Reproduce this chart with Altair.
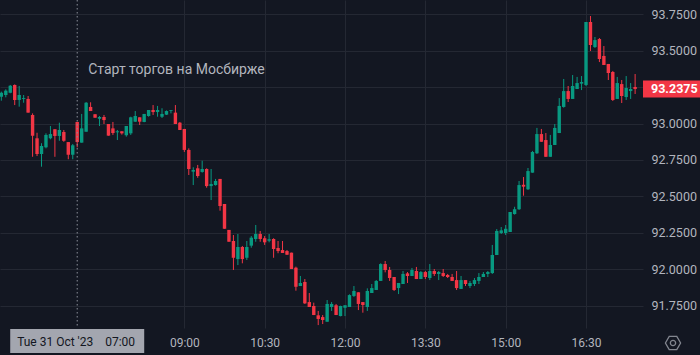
import altair as alt
import pandas as pd

GREEN = "#089981"
RED = "#F23645"
BG = "#131722"
GRID = "#242833"
LABEL = "#B2B5BE"

opens = [93.184, 93.196, 93.212, 93.265, 93.162, 93.169, 93.169, 93.059, 92.899, 92.791,
         92.837, 92.899, 92.961, 92.915, 92.942, 92.873, 92.786, 93.011, 92.869, 92.944,
         93.114, 93.064, 93.033, 93.045, 92.997, 92.967, 92.940, 92.947, 92.919, 92.933,
         93.013, 93.043, 93.011, 93.052, 93.093, 93.079, 93.047, 93.061, 93.088, 93.075,
         93.006, 92.963, 92.819, 92.670, 92.693, 92.668, 92.688, 92.571, 92.578, 92.620,
         92.448, 92.270, 92.194, 92.070, 92.153, 92.079, 92.162, 92.208, 92.242, 92.213,
         92.196, 92.208, 92.146, 92.132, 92.125, 92.114, 92.011, 91.885, 91.913, 91.775,
         91.748, 91.684, 91.672, 91.640, 91.741, 91.753, 91.679, 91.736, 91.741, 91.817,
         91.842, 91.775, 91.741, 91.837, 91.858, 91.920, 92.036, 91.995, 91.947, 91.871,
         91.899, 91.972, 91.954, 91.988, 91.933, 91.981, 91.940, 91.988, 91.968, 91.974,
         91.961, 91.947, 91.926, 91.865, 91.926, 91.885, 91.899, 91.920, 91.947, 91.968,
         91.974, 92.098, 92.249, 92.249, 92.256, 92.379, 92.412, 92.580, 92.549, 92.663,
         92.796, 92.928, 92.887, 92.772, 92.853, 92.935, 93.114, 93.223, 93.169, 93.237,
         93.274, 93.265, 93.697, 93.525, 93.580, 93.464, 93.409, 93.354, 93.169, 93.271,
         93.182, 93.223, 93.251]

highs = [93.219, 93.235, 93.265, 93.269, 93.258, 93.196, 93.189, 93.070, 92.937, 92.865,
         92.933, 92.983, 92.961, 93.006, 92.956, 92.873, 92.860, 93.011, 93.066, 93.148,
         93.146, 93.064, 93.052, 93.059, 92.997, 93.011, 92.956, 92.947, 92.983, 93.047,
         93.086, 93.043, 93.066, 93.093, 93.127, 93.121, 93.105, 93.090, 93.093, 93.127,
         93.011, 92.963, 92.830, 92.700, 92.716, 92.745, 92.693, 92.688, 92.620, 92.620,
         92.448, 92.270, 92.235, 92.242, 92.160, 92.194, 92.228, 92.304, 92.263, 92.228,
         92.242, 92.213, 92.194, 92.194, 92.132, 92.114, 92.018, 91.954, 91.933, 91.837,
         91.771, 91.714, 91.686, 91.789, 91.775, 91.762, 91.750, 91.753, 91.828, 91.885,
         91.842, 91.775, 91.869, 91.899, 91.926, 92.041, 92.057, 92.016, 91.947, 91.906,
         91.988, 91.981, 92.009, 92.016, 91.988, 91.988, 92.036, 92.002, 91.988, 92.002,
         91.968, 91.968, 91.988, 91.954, 91.926, 91.920, 91.940, 91.974, 91.981, 91.988,
         92.167, 92.276, 92.290, 92.304, 92.393, 92.429, 92.606, 92.633, 92.695, 92.812,
         92.970, 92.963, 92.935, 92.922, 92.997, 93.175, 93.306, 93.258, 93.333, 93.320,
         93.326, 93.697, 93.738, 93.594, 93.587, 93.532, 93.409, 93.361, 93.320, 93.299,
         93.326, 93.278, 93.340]

lows = [93.157, 93.180, 93.208, 93.127, 93.116, 93.143, 93.075, 92.772, 92.777, 92.704,
        92.830, 92.892, 92.772, 92.882, 92.875, 92.755, 92.755, 92.837, 92.869, 92.944,
        93.086, 93.040, 92.983, 92.997, 92.917, 92.922, 92.887, 92.924, 92.910, 92.922,
        93.011, 92.990, 93.009, 93.047, 93.059, 93.047, 93.038, 93.059, 93.070, 92.997,
        92.956, 92.805, 92.647, 92.578, 92.628, 92.663, 92.560, 92.475, 92.574, 92.402,
        92.278, 92.189, 91.995, 92.029, 92.041, 92.064, 92.148, 92.189, 92.189, 92.167,
        92.185, 92.079, 92.110, 92.112, 92.098, 92.002, 91.853, 91.885, 91.762, 91.741,
        91.686, 91.617, 91.624, 91.640, 91.714, 91.686, 91.677, 91.679, 91.741, 91.810,
        91.720, 91.702, 91.714, 91.837, 91.858, 91.920, 91.979, 91.920, 91.851, 91.830,
        91.899, 91.906, 91.954, 91.933, 91.933, 91.933, 91.926, 91.954, 91.926, 91.947,
        91.940, 91.920, 91.858, 91.865, 91.885, 91.871, 91.885, 91.899, 91.947, 91.947,
        91.968, 92.098, 92.242, 92.235, 92.256, 92.375, 92.407, 92.505, 92.544, 92.663,
        92.791, 92.875, 92.772, 92.772, 92.853, 92.935, 93.109, 93.148, 93.169, 93.237,
        93.230, 93.258, 93.498, 93.519, 93.422, 93.402, 93.299, 93.155, 93.169, 93.141,
        93.162, 93.169, 93.203]

closes = [93.212, 93.226, 93.260, 93.162, 93.196, 93.175, 93.075, 92.917, 92.791, 92.846,
          92.922, 92.928, 92.915, 92.956, 92.882, 92.786, 92.851, 92.873, 92.967, 93.143,
          93.086, 93.040, 93.045, 93.024, 92.917, 92.935, 92.947, 92.933, 92.983, 93.043,
          93.052, 93.013, 93.066, 93.093, 93.079, 93.093, 93.066, 93.086, 93.093, 92.997,
          92.956, 92.819, 92.688, 92.681, 92.640, 92.688, 92.571, 92.585, 92.606, 92.434,
          92.278, 92.189, 92.079, 92.153, 92.070, 92.153, 92.217, 92.242, 92.208, 92.185,
          92.206, 92.139, 92.125, 92.112, 92.100, 92.002, 91.880, 91.906, 91.766, 91.741,
          91.686, 91.659, 91.652, 91.762, 91.762, 91.686, 91.748, 91.753, 91.823, 91.851,
          91.762, 91.755, 91.851, 91.871, 91.920, 92.036, 91.995, 91.940, 91.858, 91.906,
          91.968, 91.954, 91.995, 91.933, 91.981, 91.947, 91.988, 91.968, 91.981, 91.954,
          91.947, 91.920, 91.871, 91.926, 91.899, 91.906, 91.926, 91.947, 91.968, 91.981,
          92.098, 92.263, 92.267, 92.278, 92.393, 92.412, 92.578, 92.567, 92.674, 92.805,
          92.928, 92.875, 92.772, 92.853, 92.970, 93.121, 93.223, 93.169, 93.258, 93.278,
          93.285, 93.697, 93.539, 93.573, 93.443, 93.402, 93.347, 93.162, 93.278, 93.189,
          93.244, 93.237, 93.2375]

price_ticks = [91.75, 92.0, 92.25, 92.5, 92.75, 93.0, 93.25, 93.5, 93.75]
time_ticks = [(9, 0), (10, 30), (12, 0), (13, 30), (15, 0), (16, 30)]
first_bar = "2023-10-31 05:35"
session_start = "2023-10-31T07:00:00Z"
note_text = "Старт торгов на Мосбирже"
date_label = "Tue 31 Oct '23"
time_label = "07:00"
last_price = closes[-1]

times = pd.date_range(first_bar, periods=len(opens), freq="5min")
df = pd.DataFrame({
    "t": times.strftime("%Y-%m-%dT%H:%M:%SZ"),
    "open": opens, "high": highs, "low": lows, "close": closes,
})
df["dir"] = ["up" if c >= o else "down" for o, c in zip(opens, closes)]

def dt(h, m, s=0):
    return alt.DateTime(year=2023, month=10, date=31, hours=h, minutes=m, seconds=s, utc=True)

xscale = alt.Scale(type="utc", domain=[dt(5, 33, 30), dt(17, 33, 50)], padding=0)
yscale = alt.Scale(domain=[91.597, 93.848], zero=False, nice=False, padding=0)
cscale = alt.Scale(domain=["up", "down"], range=[GREEN, RED])

x_axis = alt.Axis(values=[dt(h, m) for h, m in time_ticks], format="%H:%M", title=None,
                  domain=False, ticks=False, labelColor=LABEL, labelFontSize=12,
                  labelFont="Roboto", labelPadding=9, grid=True, gridColor=GRID,
                  gridWidth=1)
y_axis = alt.Axis(orient="right", values=price_ticks, format=".4f", title=None,
                  domain=False, ticks=False, labelColor=LABEL, labelFontSize=12.5,
                  labelFont="Roboto", labelPadding=8, labelAlign="left",
                  labelExpr="datum.value == 93.25 ? '' : datum.label",
                  grid=True, gridColor=GRID, gridWidth=1)

base = alt.Chart(df)
wicks = base.mark_rule(strokeWidth=1).encode(
    x=alt.X("t:T", scale=xscale, axis=x_axis),
    y=alt.Y("low:Q", scale=yscale, axis=y_axis),
    y2="high:Q",
    color=alt.Color("dir:N", scale=cscale, legend=None),
)
bodies = base.mark_bar(size=3.4).encode(
    x="t:T", y="open:Q", y2="close:Q",
    color=alt.Color("dir:N", scale=cscale, legend=None),
)

ann = pd.DataFrame({"t": [session_start], "p": [last_price],
                    "note": [note_text], "d": [date_label], "tm": [time_label],
                    "pl": [f"{last_price:.4f}"]})
a = alt.Chart(ann)
crosshair = a.mark_rule(strokeDash=[1.5, 2.5], color="#8C8F98", strokeWidth=1).encode(
    x="t:T", y=alt.value(0), y2=alt.value(328))
note = a.mark_text(align="left", baseline="middle", dx=11, fontSize=14, font="Roboto",
                   color=LABEL).encode(x="t:T", y=alt.value(70), text="note:N")
date_box = a.mark_rect(color="#A3A6AF", xOffset=-67, x2Offset=67).encode(
    x="t:T", x2="t:T", y=alt.value(329), y2=alt.value(353))
date_txt = a.mark_text(align="right", baseline="middle", dx=16, fontSize=12, font="Roboto",
                       color=BG).encode(x="t:T", y=alt.value(342), text="d:N")
time_txt = a.mark_text(align="left", baseline="middle", dx=28, fontSize=12, font="Roboto",
                       color=BG).encode(x="t:T", y=alt.value(342), text="tm:N")
price_box = a.mark_rect(color=RED, yOffset=-8.5, y2Offset=8.5).encode(
    x=alt.value(643), x2=alt.value(700), y="p:Q", y2="p:Q")
price_txt = a.mark_text(align="left", baseline="middle", fontSize=12.5, font="Roboto",
                        fontWeight="bold", color="white").encode(
    x=alt.value(651), y="p:Q", text="pl:N")
gear = a.mark_point(shape="M -1 0 L -0.5 -0.866 L 0.5 -0.866 L 1 0 L 0.5 0.866 L -0.5 0.866 Z",
                    size=230, filled=False, color=LABEL, strokeWidth=1.3).encode(
    x=alt.value(673), y=alt.value(343))
gear_dot = a.mark_point(shape="circle", size=28, filled=False, color=LABEL,
                        strokeWidth=1.3).encode(x=alt.value(673), y=alt.value(343))

chart = alt.layer(wicks, bodies, crosshair, note, date_box, date_txt, time_txt,
                  price_box, price_txt, gear, gear_dot).properties(
    width=643, height=328, background=BG,
    autosize=alt.AutoSizeParams(type="none"),
    padding={"left": 0, "top": 0, "right": 57, "bottom": 27},
).configure_view(stroke=None)

chart.save("out.html", embed_options={"renderer": "svg", "actions": False})
